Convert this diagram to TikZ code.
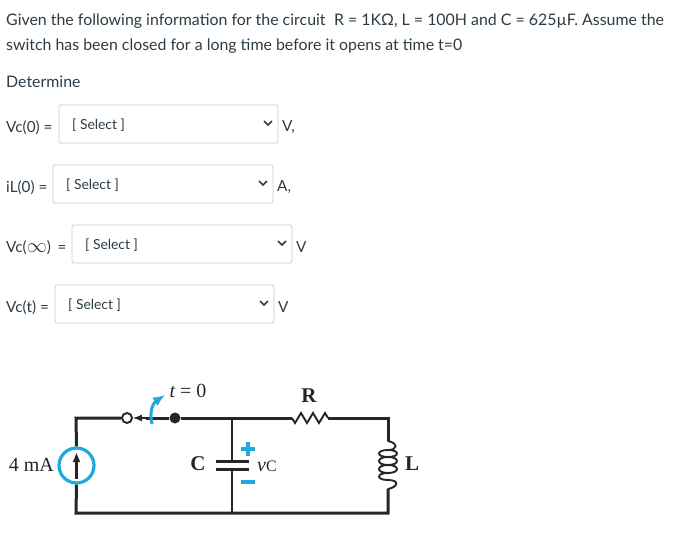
\documentclass[tikz,border=0pt]{standalone}
\usepackage{amsmath, amssymb}
\usepackage{fontspec}
\setmainfont{Lato}
\newfontfamily\circuitfont{Liberation Serif}
\usetikzlibrary{positioning,arrows.meta}
\definecolor{textgray}{HTML}{2D3B45}
\definecolor{boxgray}{HTML}{C7CDD1}
\definecolor{swcyan}{HTML}{1FA9DC}
\tikzset{
  qtext/.style={anchor=west,inner sep=0pt,text=textgray,font=\fontsize{15.9}{18}\selectfont},
  lbl/.style={anchor=west,inner sep=0pt,text=textgray,font=\fontsize{15.3}{17}\selectfont},
  sel/.style={anchor=west,inner sep=0pt,text=textgray,font=\fontsize{13.9}{16}\selectfont},
  selbox/.style={draw=boxgray,line width=0.8pt,rounded corners=1.5pt,fill=white},
  chev/.style={draw=textgray,line width=1.6pt},
  wire/.style={draw=black!85,line width=3pt},
  thin wire/.style={draw=black!85,line width=1.9pt},
  cval/.style={inner sep=0pt,text=black!85,font=\circuitfont\fontsize{20}{22}\selectfont},
  cbold/.style={inner sep=0pt,text=black!85,font=\circuitfont\bfseries\fontsize{21}{22}\selectfont}
}
\begin{document}
\begin{tikzpicture}[x=1pt,y=-1pt]
  \useasboundingbox (0,0) rectangle (688,544);
  % question text
  \node[qtext] (line1) at (6,21.5) {Given the following information for the circuit\; R = 1KΩ, L = 100H and C = 625µF. Assume the};
  \node[qtext] (line2) at (6,46.5) {switch has been closed for a long time before it opens at time t=0};
  \node[qtext] (det) at (6,82) {Determine};
  % drop downs
  \foreach \nm/\lab/\xa/\xb/\yy/\xs/\un in {
    a/{Vc(0) =}/59/278/124/72/{V,},
    b/{iL(0) =}/53/273/184/66/{A,},
    c/{Vc(\scalebox{1.4}{$\infty$})\, =}/72/292/244/85/{V},
    d/{Vc(t) =}/55/274/304/68/{V}}
  {
    \node[lbl] (lab\nm) at (6,\yy+4) {\lab};
    \draw[selbox] (\xa,\yy-19) rectangle (\xb,\yy+19);
    \node[sel] (sel\nm) at (\xs,\yy+0.7) {[ Select ]};
    \draw[chev] (\xb-14,\yy-3) -- (\xb-10,\yy+1) -- (\xb-6,\yy-3);
    \node[lbl] (unit\nm) at (\xb+4,\yy+3) {\un};
  }
  % circuit
  \coordinate (tl) at (76,418);
  \coordinate (bl) at (76,513);
  \coordinate (tr) at (388,418);
  \coordinate (br) at (388,513);
  \coordinate (ctop) at (232,418);
  \coordinate (cbot) at (232,513);
  \coordinate (p1) at (232,461);
  \coordinate (p2) at (232,469);
  \coordinate (r1) at (292,418);
  \coordinate (r2) at (328,418);
  \coordinate (l1) at (388,441);
  \coordinate (l2) at (388,489);
  \node[circle,draw=swcyan,line width=3.2pt,minimum size=35pt,inner sep=0pt] (src) at (76.5,465.5) {};
  \node[circle,draw=black!85,fill=white,line width=1.9pt,minimum size=10pt,inner sep=0pt] (open) at (127,418) {};
  \node[circle,fill=black!85,minimum size=11pt,inner sep=0pt] (closed) at (175,418) {};
  \draw[wire] (src.north) -- (tl) -- (open.west);
  \draw[wire] (closed.east) -- (ctop) -- (r1);
  \draw[wire] (r2) -- (tr) -- (l1);
  \draw[wire] (l2) -- (br) -- (bl) -- (src.south);
  \draw[thin wire] (ctop) -- (p1);
  \draw[thin wire] (p2) -- (cbot);
  \draw[wire] (216,461) -- (249,461);
  \draw[wire] (216,469) -- (249,469);
  \draw[thin wire] (r1) -- (295,423) -- (301,413) -- (307,423) -- (313,413) -- (319,423) -- (325,413) -- (r2);
  \draw[thin wire,line cap=round] (l1)
    .. controls (398,443) and (398,450) .. (388,450)
    .. controls (376,450) and (376,457) .. (388,457)
    .. controls (400,457) and (400,450) .. (388,450)
    (388,457) .. controls (376,457) and (376,465) .. (388,465)
    .. controls (400,465) and (400,457) .. (388,457)
    (388,465) .. controls (376,465) and (376,473) .. (388,473)
    .. controls (400,473) and (400,465) .. (388,465)
    (388,473) .. controls (376,473) and (376,480) .. (388,480)
    .. controls (400,480) and (398,487) .. (l2);
  % switch
  \draw[wire] (closed.west) -- (146,418);
  \draw[draw=black!85,line width=1.2pt,-{Latex[length=9pt,width=7pt]}] (146,418) -- (open.east);
  \draw[draw=swcyan,line width=3pt,-{Latex[length=12pt,width=10pt]}] (152,424) .. controls (149,412) and (153,403) .. (165,395);
  % source arrow
  \draw[wire,line width=2.4pt,-{Latex[length=10pt,width=8pt]}] (76.5,479) -- (76.5,452);
  % labels
  \node[cval,anchor=east] (vs) at (54,465) {4 mA};
  \node[cval] (tzero) at (188,391) {{\itshape t} = 0};
  \node[cbold] (rlab) at (309,396) {R};
  \node[cbold] (clab) at (198,464) {C};
  \node[cbold,anchor=west] (llab) at (405,464) {L};
  \node[cval,anchor=west] (vc) at (257,466) {{\itshape v}{\fontsize{16}{16}\selectfont C}};
  \draw[draw=swcyan,line width=3.4pt] (241,449) -- (255,449) (248,442) -- (248,456);
  \draw[draw=swcyan,line width=3.2pt] (241,482) -- (255,482);
\end{tikzpicture}
\end{document}
